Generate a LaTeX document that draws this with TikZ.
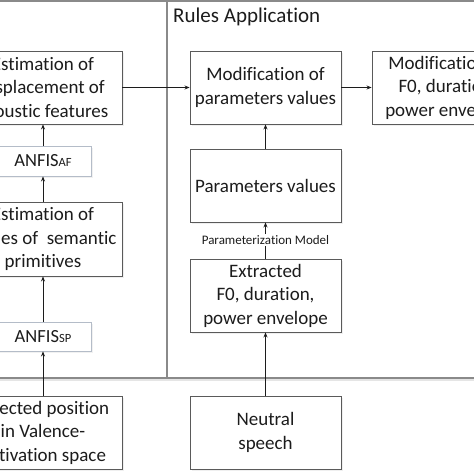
\documentclass[tikz,border=0pt]{standalone}
\usepackage{fontspec}
\setmainfont{Carlito}[Ligatures=NoCommon]
\usetikzlibrary{shadows,arrows.meta}
\definecolor{boxline}{HTML}{5A5A5A}
\definecolor{frameline}{HTML}{8A8A8A}
\definecolor{txt}{HTML}{1C1C1C}
\definecolor{anfisline}{HTML}{B4BCC8}
\tikzset{
  box/.style={draw=boxline, line width=0.9pt, fill=white, text=txt,
    minimum height=73pt, align=center, inner sep=0pt,
    font=\fontsize{19}{23.5}\selectfont,
    drop shadow={shadow xshift=2pt, shadow yshift=-2pt, fill=black!12}},
  anfis/.style={draw=anfisline, line width=0.9pt, fill=white, text=txt,
    minimum width=96pt, minimum height=30pt, inner sep=0pt,
    font=\fontsize{18.5}{21}\selectfont,
    drop shadow={shadow xshift=2pt, shadow yshift=-2pt, fill=black!10}},
  frame/.style={draw=frameline, line width=1.3pt},
  conn/.style={draw=txt, line width=0.7pt, -{Stealth[length=5pt,width=4pt]}},
  plain/.style={draw=txt, line width=0.7pt},
}
\newcommand{\subsc}[1]{{\fontsize{12.5}{12}\selectfont #1}}
\begin{document}
\begin{tikzpicture}[x=1pt,y=-1pt]
\path[use as bounding box, clip] (0,0) rectangle (474,474);
\fill[white] (0,0) rectangle (474,474);
% frame lines
\coordinate (tl) at (0,1);
\coordinate (tr) at (474,1);
\coordinate (vt) at (167,0);
\coordinate (vb) at (167,378);
\coordinate (hl) at (0,378);
\coordinate (hr) at (474,378);
\draw[frame] (tl) -- (tr);
\draw[frame] (vt) -- (vb);
\draw[draw=black!10, line width=2pt] ([yshift=-2pt]hl) -- ([yshift=-2pt]hr);
\draw[frame] (hl) -- (hr);
\node[anchor=west, text=txt, font=\fontsize{21}{23}\selectfont, inner sep=0pt] (rules) at (173,17) {Rules Application};
% left column
\node[box, minimum width=158pt] (est1) at (43,87.5) {Estimation of\\displacement of\\acoustic features};
\node[anfis] (anfisaf) at (43,161) {ANFIS\subsc{AF}};
\node[box, minimum width=158pt, minimum height=74pt] (est2) at (43,239) {Estimation of\\values of\ \ semantic\\primitives};
\node[anfis, minimum height=29pt] (anfissp) at (43,336.5) {ANFIS\subsc{SP}};
\node[box, minimum width=158pt] (sel) at (43,432.5) {Selected position\\in Valence-\\Activation space};
% right column
\node[box, minimum width=151pt] (mod) at (265.5,87.5) {Modification of\\parameters values};
\node[box, minimum width=151pt] (modf) at (447.5,87.5) {Modification of\\F0, duration,\\power envelope};
\node[box, minimum width=151pt] (par) at (265.5,185.5) {Parameters values};
\node[text=txt, font=\fontsize{13}{14}\selectfont, inner sep=1pt] (pm) at (265.5,240) {Parameterization Model};
\node[box, minimum width=151pt] (ext) at (265.5,295.5) {Extracted\\F0, duration,\\power envelope};
\node[box, minimum width=151pt] (neu) at (265.5,432.5) {Neutral\\speech};
% connectors
\draw[conn] (anfisaf) -- (est1);
\draw[conn] (est2) -- (anfisaf);
\draw[conn] (anfissp) -- (est2);
\draw[conn] (sel) -- (anfissp);
\draw[conn] (est1) -- (mod);
\draw[conn] (mod) -- (modf);
\draw[conn] (par) -- (mod);
\draw[plain] (ext) -- (pm);
\draw[conn] (pm) -- (par);
\draw[conn] (neu) -- (ext);
\end{tikzpicture}
\end{document}
